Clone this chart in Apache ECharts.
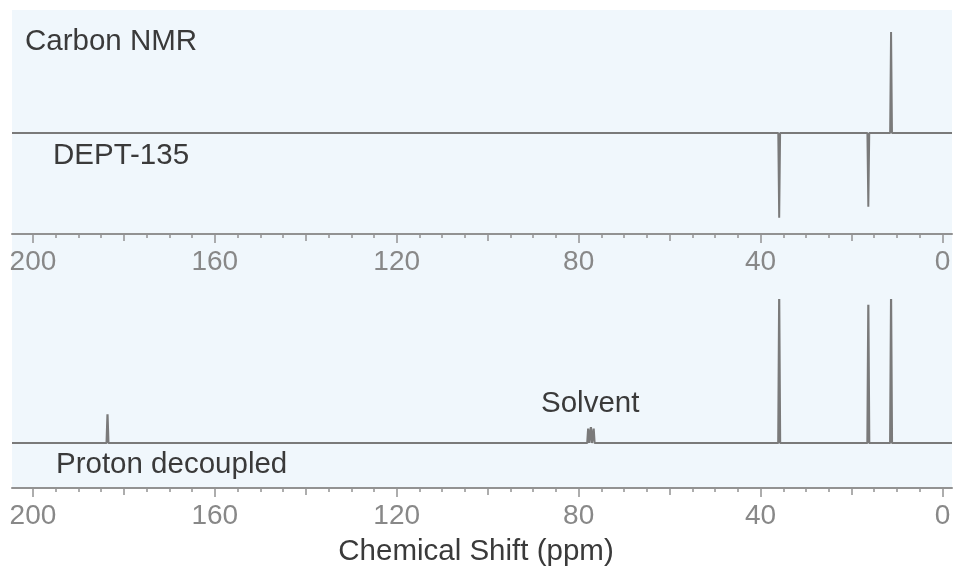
<!DOCTYPE html>
<html style="height: 100%">
<head>
    <meta charset="UTF-8">
    <title>Carbon NMR</title>
    <script src="https://cdn.jsdelivr.net/npm/echarts/dist/echarts.min.js"></script>
</head>
<body style="height: 100%; margin: 0; background: #fff">
    <div id="main" style="width: 969px; height: 577px"></div>
    <script type="text/javascript">
        // peaks (ppm, relative height)
        var deptShifts = [35.9, 16.3, 11.3];
        var deptHeights = [-0.84, -0.73, 1.0];
        var decShifts = [183.6, 77.9, 77.3, 76.7, 35.9, 16.3, 11.3];
        var decHeights = [0.2, 0.1, 0.11, 0.1, 1.0, 0.96, 1.0];
        var labelTicks = [0, 40, 80, 120, 160, 200];
        var midTicks = [20, 60, 100, 140, 180];
        var minorTicks = [];
        for (var t = 5; t < 200; t += 5) { if (t % 20 !== 0) minorTicks.push(t); }

        var xMin = -2.1, xMax = 204.6;
        var halfWidth = 0.2;

        // stick spectrum: flat baseline with a narrow triangle at each peak
        function spectrum(shifts, heights) {
            var pts = [[xMax, 0]];
            var order = shifts.map(function (s, i) { return i; })
                .sort(function (a, b) { return shifts[b] - shifts[a]; });
            order.forEach(function (i) {
                pts.push([shifts[i] + halfWidth, 0]);
                pts.push([shifts[i], heights[i]]);
                pts.push([shifts[i] - halfWidth, 0]);
            });
            pts.push([xMin, 0]);
            return pts;
        }

        var axisGray = '#929292';
        var textDark = '#3a3a3a';
        var font = 'Liberation Sans';
        var textFont = '29.5px "Liberation Sans"';

        function xAxes(gridIndex, withName) {
            var base = {
                type: 'value', gridIndex: gridIndex, min: xMin, max: xMax, inverse: true,
                position: 'bottom', splitLine: { show: false }
            };
            return [
                Object.assign({}, base, {
                    axisLine: { onZero: false, lineStyle: { color: axisGray, width: 2 } },
                    axisTick: { length: 9, customValues: labelTicks, lineStyle: { color: axisGray, width: 1.5 } },
                    axisLabel: { customValues: labelTicks, margin: 14, color: '#888', fontSize: 28, fontFamily: font },
                    name: withName ? 'Chemical Shift (ppm)' : '',
                    nameLocation: 'middle', nameGap: 49,
                    nameTextStyle: { color: textDark, fontSize: 29.5, fontFamily: font, padding: [0, 12, 0, 0] }
                }),
                Object.assign({}, base, {
                    axisLine: { show: false, onZero: false },
                    axisTick: { length: 7, customValues: midTicks, lineStyle: { color: axisGray, width: 1.5 } },
                    axisLabel: { show: false }
                }),
                Object.assign({}, base, {
                    axisLine: { show: false, onZero: false },
                    axisTick: { length: 4, customValues: minorTicks, lineStyle: { color: axisGray, width: 1.5 } },
                    axisLabel: { show: false }
                })
            ];
        }

        var myChart = echarts.init(document.getElementById('main'));
        var bg = '#f0f7fc';

        var option = {
            animation: false,
            grid: [
                { left: 12, right: 17, top: 10, height: 224, show: true, backgroundColor: bg, borderWidth: 0 },
                { left: 12, right: 17, top: 234, height: 254, show: true, backgroundColor: bg, borderWidth: 0 }
            ],
            xAxis: xAxes(0, false).concat(xAxes(1, true)),
            yAxis: [
                { type: 'value', gridIndex: 0, min: -1.0, max: 1.218, show: false },
                { type: 'value', gridIndex: 1, min: -0.3125, max: 1.451, show: false }
            ],
            graphic: [
                { type: 'text', left: 25, top: 27, z: 10, style: { text: 'Carbon NMR', fill: textDark, font: textFont } },
                { type: 'text', left: 53, top: 141, z: 10, style: { text: 'DEPT-135', fill: textDark, font: textFont } },
                { type: 'text', left: 541, top: 389, z: 10, style: { text: 'Solvent', fill: textDark, font: textFont } },
                { type: 'text', left: 56, top: 450, z: 10, style: { text: 'Proton decoupled', fill: textDark, font: textFont } }
            ],
            series: [
                {
                    type: 'line', xAxisIndex: 0, yAxisIndex: 0, showSymbol: false, silent: true,
                    lineStyle: { color: '#7a7a7a', width: 2 },
                    data: spectrum(deptShifts, deptHeights)
                },
                {
                    type: 'line', xAxisIndex: 3, yAxisIndex: 1, showSymbol: false, silent: true,
                    lineStyle: { color: '#7a7a7a', width: 2.2 },
                    data: spectrum(decShifts, decHeights)
                }
            ]
        };

        myChart.setOption(option);
    </script>
</body>
</html>
